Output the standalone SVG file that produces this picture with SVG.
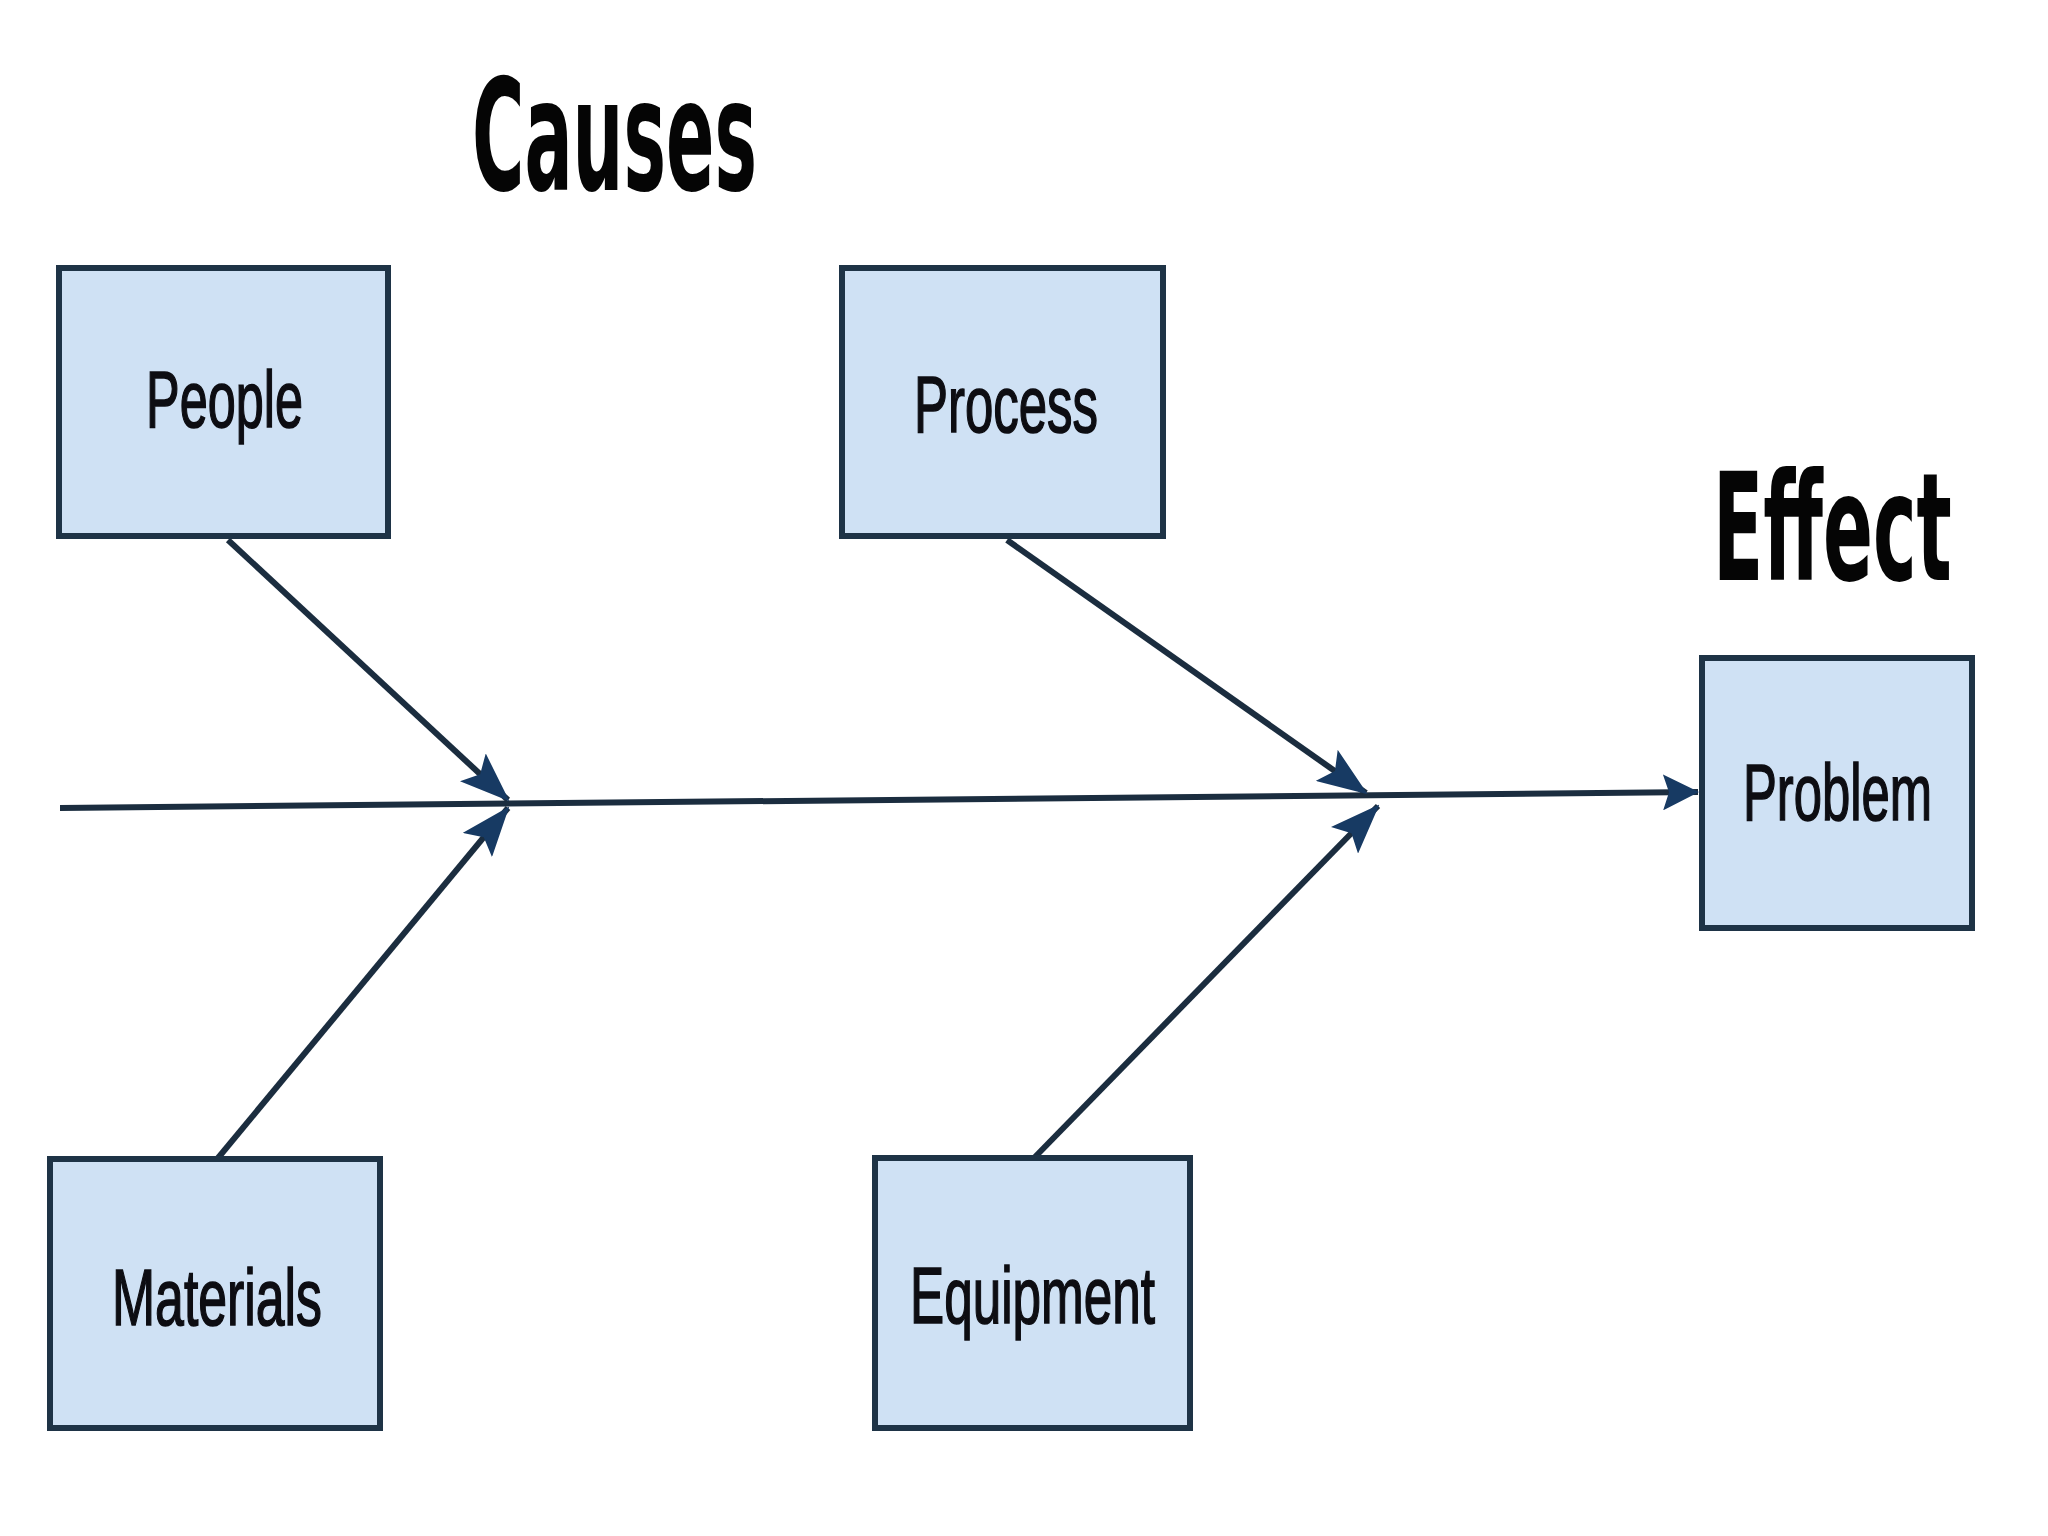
<svg xmlns="http://www.w3.org/2000/svg" width="2048" height="1536" viewBox="0 0 2048 1536">
  <style>
    .box { fill: #cfe1f4; stroke: #1e3346; stroke-width: 6; }
    .lbl { font-family: "Liberation Sans", Arial, sans-serif; font-size: 80px; fill: #0d0d12; stroke: #0d0d12; stroke-width: 1.6; }
    .title { font-family: "DejaVu Sans Condensed", "Liberation Sans", sans-serif; font-weight: bold; fill: #050505; }
    .conn { stroke: #1b2d3f; stroke-width: 6; fill: none; }
  </style>
  <defs>
    <marker id="arr" markerUnits="userSpaceOnUse" viewBox="0 0 50 38" refX="48" refY="19" markerWidth="50" markerHeight="38" orient="auto">
      <path d="M0,0 L50,19 L0,38 L10,19 Z" fill="#173a63"/>
    </marker>
    <marker id="arrs" markerUnits="userSpaceOnUse" viewBox="0 0 36 36" refX="35" refY="18" markerWidth="36" markerHeight="36" orient="auto">
      <path d="M0,0 L36,18 L0,36 L6,18 Z" fill="#173a63"/>
    </marker>
  </defs>
  <rect width="2048" height="1536" fill="#ffffff"/>

  <text class="title" transform="translate(472,190) scale(0.6,1)" x="0" y="0" font-size="155" textLength="475" lengthAdjust="spacingAndGlyphs">Causes</text>
  <text class="title" transform="translate(1713,580) scale(0.6,1)" x="0" y="0" font-size="150" textLength="398" lengthAdjust="spacingAndGlyphs">Effect</text>

  <g id="connectors">
    <line class="conn" x1="60" y1="808" x2="1698" y2="792" marker-end="url(#arrs)"/>
    <line class="conn" x1="228" y1="540" x2="508" y2="800" marker-end="url(#arr)"/>
    <line class="conn" x1="218" y1="1158" x2="508" y2="808" marker-end="url(#arr)"/>
    <line class="conn" x1="1007" y1="540" x2="1366" y2="793" marker-end="url(#arr)"/>
    <line class="conn" x1="1034" y1="1158" x2="1378" y2="806" marker-end="url(#arr)"/>
  </g>

  <g id="people">
    <rect class="box" x="59" y="268" width="329" height="268"/>
    <text class="lbl" x="146" y="427" textLength="157" lengthAdjust="spacingAndGlyphs">People</text>
  </g>
  <g id="process">
    <rect class="box" x="842" y="268" width="321" height="268"/>
    <text class="lbl" x="914" y="432" textLength="184" lengthAdjust="spacingAndGlyphs">Process</text>
  </g>
  <g id="problem">
    <rect class="box" x="1702" y="658" width="270" height="270"/>
    <text class="lbl" x="1743" y="820" font-size="72" textLength="189" lengthAdjust="spacingAndGlyphs">Problem</text>
  </g>
  <g id="materials">
    <rect class="box" x="50" y="1159" width="330" height="269"/>
    <text class="lbl" x="112" y="1325" textLength="210" lengthAdjust="spacingAndGlyphs">Materials</text>
  </g>
  <g id="equipment">
    <rect class="box" x="875" y="1158" width="315" height="270"/>
    <text class="lbl" x="910" y="1323" textLength="245" lengthAdjust="spacingAndGlyphs">Equipment</text>
  </g>
</svg>
